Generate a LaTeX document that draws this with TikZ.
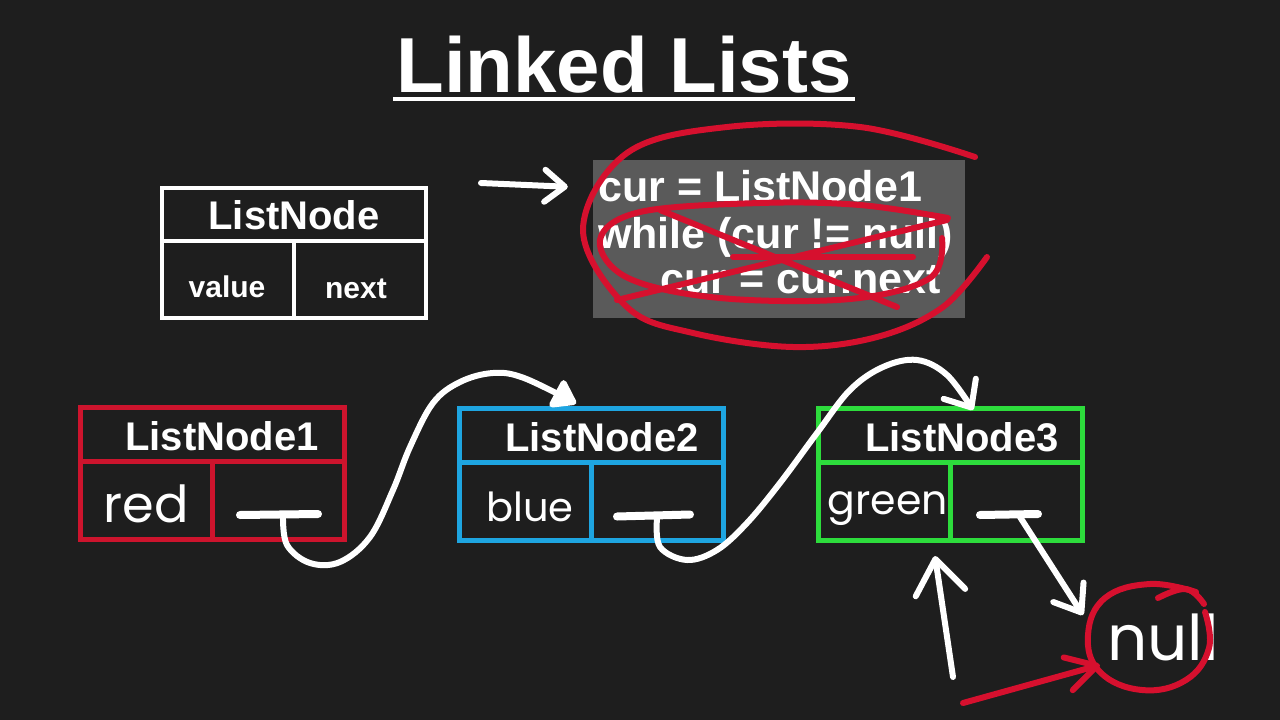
\documentclass[tikz,border=0pt]{standalone}
\usepackage{fontspec}
\setmainfont{Liberation Sans}
\newfontfamily\handfont{Poppins}
\usepackage{xcolor}
\usepackage{tikz}
\usetikzlibrary{arrows.meta,calc,positioning}
\definecolor{llbg}{RGB}{30,30,30}
\definecolor{llgray}{RGB}{90,90,90}
\definecolor{llred}{RGB}{205,20,45}
\definecolor{llblue}{RGB}{30,165,225}
\definecolor{llgreen}{RGB}{45,220,60}
\definecolor{llscrib}{RGB}{214,16,46}
\tikzstyle{hdr} = [draw, line width=5pt, minimum width=264pt, minimum height=54pt, inner sep=0pt, outer sep=0pt]
\tikzstyle{cellbox} = [draw, line width=5pt, minimum width=132pt, minimum height=78pt, inner sep=0pt, outer sep=0pt]
\tikzstyle{handarrow} = [white, line width=6pt, line cap=round, -{Straight Barb[round,length=20pt,width=32pt]}]

\begin{document}
\begin{tikzpicture}[
        x=1pt, y=-1pt,
        boxtitle/.style={text=white, inner sep=0pt, font=\fontsize{40}{40}\selectfont\bfseries},
        fieldtext/.style={text=white, inner sep=0pt, font=\fontsize{30}{30}\selectfont\bfseries},
        codetext/.style={text=white, inner sep=0pt, font=\fontsize{43}{43}\selectfont\bfseries},
        handtext/.style={text=white, inner sep=0pt, anchor=base, font=\fontsize{46}{46}\selectfont\handfont},
        stubline/.style={white, line width=8pt, line cap=round},
        linkcurve/.style={white, line width=6pt, line cap=round},
        scribble/.style={llscrib, line width=6pt, line cap=round}
    ]
    \fill[llbg] (0,0) rectangle (1280,720);
    \useasboundingbox (0,0) rectangle (1280,720);

    % title
    \node[text=white, inner sep=0pt, anchor=base, font=\fontsize{78}{80}\selectfont\bfseries] (title) at (624,92) {Linked Lists};
    \draw[white, line width=4pt] ($(title.base west)+(-3,7)$) -- ($(title.base east)+(3,7)$);

    % template node
    \node[hdr, draw=white, line width=4pt, minimum height=53pt] (tmph) at (294,214.5) {};
    \node[cellbox, draw=white, line width=4pt, minimum height=77pt, anchor=north west] (tmpv) at (tmph.south west) {};
    \node[cellbox, draw=white, line width=4pt, minimum height=77pt, anchor=north east] (tmpn) at (tmph.south east) {};
    \node[boxtitle, anchor=base] (tmpt) at ($(tmph.center)+(0,15)$) {ListNode};
    \node[fieldtext, anchor=base] (tmpval) at ($(tmpv.center)+(-1,18)$) {value};
    \node[fieldtext, anchor=base] (tmpnext) at ($(tmpn.center)+(-4,19)$) {next};

    % code
    \node[fill=llgray, minimum width=372pt, minimum height=158pt, inner sep=0pt] (code) at (779,239) {};
    \node[codetext, anchor=base west] (code1) at (598,201) {cur = ListNode1};
    \node[codetext, anchor=base west] (code2) at (598,248) {while (cur != null)};
    \node[codetext, anchor=base west] (code3) at (660,293) {cur = cur.next};
    \coordinate (ptr) at (481,183);
    \draw[handarrow] (ptr) -- ($(code.north west)+(-25,27)$);

    % crossed out
    \draw[scribble] plot[smooth, tension=0.6] coordinates {(975,157) (860,127) (727,127) (627,153) (583,230) (627,307) (693,333) (793,347) (877,337) (943,307) (987,257)};
    \draw[scribble] plot[smooth, tension=0.6] coordinates {(948,218) (860,205) (760,203) (640,212) (600,240) (628,278) (720,298) (850,299) (930,278) (942,238)};
    \draw[scribble] (660,210) -- (897,307);
    \draw[scribble] (947,220) -- (617,300);
    \draw[scribble] (733,257) -- (913,257);

    % list nodes
    \node[hdr, draw=llred] (n1h) at (212,434) {};
    \node[cellbox, draw=llred, anchor=north west] (n1v) at (n1h.south west) {};
    \node[cellbox, draw=llred, anchor=north east] (n1n) at (n1h.south east) {};
    \node[boxtitle, anchor=base] (n1t) at ($(n1h.center)+(10,16)$) {ListNode1};
    \node[handtext, font=\fontsize{51}{51}\selectfont\handfont] (n1val) at (146,522) {red};

    \node[hdr, draw=llblue] (n2h) at (591,435.5) {};
    \node[cellbox, draw=llblue, anchor=north west] (n2v) at (n2h.south west) {};
    \node[cellbox, draw=llblue, anchor=north east] (n2n) at (n2h.south east) {};
    \node[boxtitle, anchor=base] (n2t) at ($(n2h.center)+(11,16)$) {ListNode2};
    \node[handtext, font=\fontsize{40}{40}\selectfont\handfont] (n2val) at (530,521) {blue};

    \node[hdr, draw=llgreen] (n3h) at (950,435) {};
    \node[cellbox, draw=llgreen, anchor=north west] (n3v) at (n3h.south west) {};
    \node[cellbox, draw=llgreen, anchor=north east] (n3n) at (n3h.south east) {};
    \node[boxtitle, anchor=base] (n3t) at ($(n3h.center)+(12,16)$) {ListNode3};
    \node[handtext, font=\fontsize{41}{41}\selectfont\handfont] (n3val) at (888,514) {green};

    % next pointers
    \coordinate (s1a) at ($(n1n.center)+(-38,15)$);
    \coordinate (s1b) at ($(n1n.center)+(40,14)$);
    \coordinate (s1) at ($(n1n.center)+(5,16)$);
    \coordinate (s2a) at ($(n2n.center)+(-40,15)$);
    \coordinate (s2b) at ($(n2n.center)+(33,13)$);
    \coordinate (s2) at ($(n2n.center)+(0,17)$);
    \coordinate (s3a) at ($(n3n.center)+(-36,14)$);
    \coordinate (s3b) at ($(n3n.center)+(22,13)$);
    \coordinate (s3) at ($(n3n.center)+(4,16)$);
    \draw[stubline] (s1a) -- (s1b);
    \draw[stubline] (s2a) -- (s2b);
    \draw[stubline] (s3a) -- (s3b);

    \coordinate (t1) at ($(n2h.north)+(-15,-5)$);
    \coordinate (t2) at ($(n3h.north)+(23,2)$);
    \draw[linkcurve, -{Triangle[round,length=26pt,width=34pt]}] plot[smooth, tension=0.6] coordinates {(s1) (287,545) (310,563) (340,562) (370,537) (393,490) (410,447) (433,403) (460,382) (493,373) (524,378) (t1)};
    \draw[linkcurve, -{Straight Barb[round,length=22pt,width=38pt]}] plot[smooth, tension=0.6] coordinates {(s2) (660,547) (687,560) (717,550) (747,523) (780,483) (817,433) (850,390) (883,367) (917,360) (947,375) (t2)};

    % null
    \node[handtext, font=\fontsize{63}{63}\selectfont\handfont] (nulltxt) at (1163,660) {null};
    \coordinate (nulltip) at (1083,615);
    \draw[handarrow, -{Straight Barb[round,length=24pt,width=36pt]}] (s3) -- (nulltip);
    \coordinate (curptr) at (953,677);
    \draw[handarrow, -{Straight Barb[round,length=34pt,width=50pt]}] (curptr) -- ($(n3v.south east)+(-15,16)$);

    \draw[scribble] plot[smooth, tension=0.7] coordinates {(1196,592) (1150,584) (1105,598) (1088,635) (1100,672) (1142,690) (1186,680) (1209,648) (1205,612)};
    \draw[scribble] plot[smooth, tension=0.7] coordinates {(1158,598) (1186,589) (1204,604)};
    \coordinate (redtail) at (963,703);
    \coordinate (nullin) at (1100,665);
    \draw[scribble, -{Straight Barb[round,length=30pt,width=34pt]}] (redtail) -- (nullin);
\end{tikzpicture}
\end{document}
